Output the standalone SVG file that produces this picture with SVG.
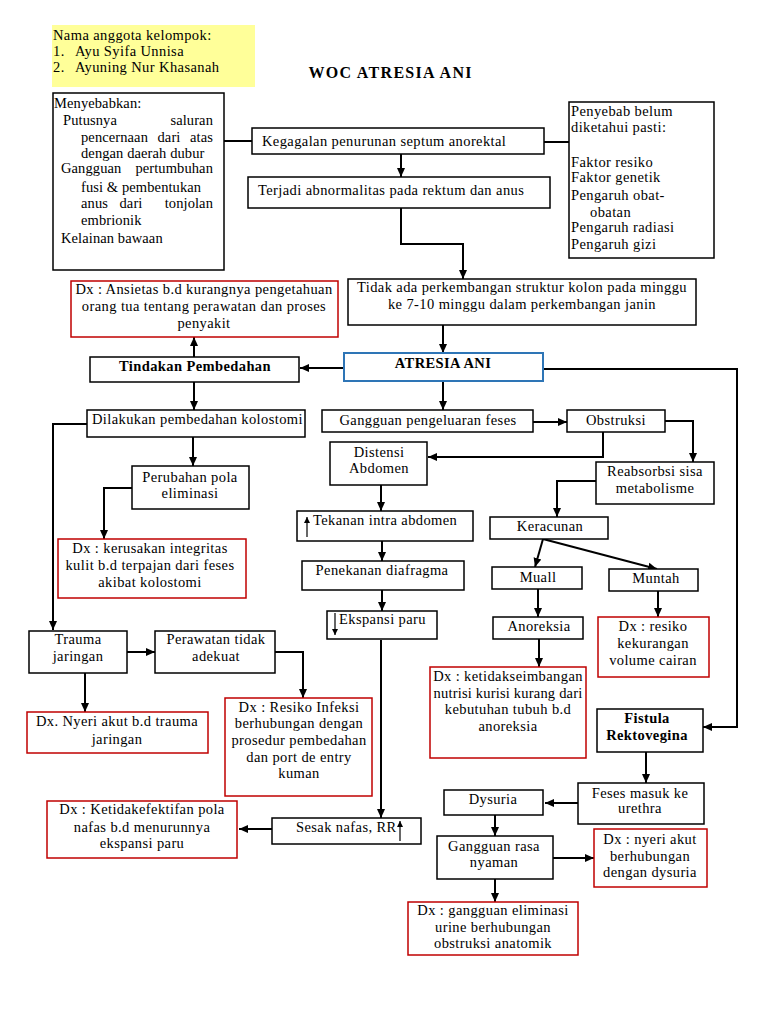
<svg xmlns="http://www.w3.org/2000/svg" width="768" height="1024" viewBox="0 0 768 1024">
<defs>
<marker id="ah" markerUnits="userSpaceOnUse" markerWidth="10" markerHeight="10" refX="9" refY="5" orient="auto">
<path d="M0,1 L9,5 L0,9 z" fill="#000"/>
</marker>
<marker id="sa" markerUnits="userSpaceOnUse" markerWidth="7" markerHeight="7" refX="6" refY="3.5" orient="auto">
<path d="M0,0.5 L6,3.5 L0,6.5 z" fill="#000"/>
</marker>
<style>
text{font-family:"Liberation Serif","Times New Roman",serif;font-size:14.5px;fill:#000;letter-spacing:0.4px}
.c{text-anchor:middle}
.e{text-anchor:end}
.b{font-weight:bold}
.j text{letter-spacing:0.1px}
.box{fill:#fff;stroke:#000;stroke-width:1.5}
.dx{fill:#fff;stroke:#c00000;stroke-width:1.5}
.blue{fill:#fff;stroke:#2e75b6;stroke-width:2}
.cn{fill:none;stroke:#000;stroke-width:2}
.sm{fill:none;stroke:#000;stroke-width:1.2}
</style>
</defs>
<rect width="768" height="1024" fill="#fff"/>

<g id="members">
<rect x="52" y="25" width="203" height="62" fill="#ffff99"/>
<text x="53" y="40">Nama anggota kelompok:</text>
<text x="53" y="56">1.</text><text x="75" y="56">Ayu Syifa Unnisa</text>
<text x="53" y="72">2.</text><text x="75" y="72">Ayuning Nur Khasanah</text>
</g>

<g id="title">
<text x="390" y="78" class="c b" style="font-size:16px;letter-spacing:0" textLength="163">WOC ATRESIA ANI</text>
</g>

<g id="connectors">
<line class="cn" x1="224" y1="141" x2="252" y2="141"/>
<line class="cn" x1="544" y1="142" x2="569" y2="142"/>
<line class="cn" x1="401" y1="154" x2="401" y2="177" marker-end="url(#ah)"/>
<polyline class="cn" points="401,208 401,244 463,244 463,279" marker-end="url(#ah)"/>
<line class="cn" x1="443" y1="325" x2="443" y2="353" marker-end="url(#ah)"/>
<line class="cn" x1="344" y1="368" x2="300" y2="368" marker-end="url(#ah)"/>
<line class="cn" x1="194" y1="357" x2="194" y2="337" marker-end="url(#ah)"/>
<polyline class="cn" points="543,369 737,369 737,727 703,727" marker-end="url(#ah)"/>
<line class="cn" x1="443" y1="381" x2="443" y2="410" marker-end="url(#ah)"/>
<line class="cn" x1="194" y1="382" x2="194" y2="410" marker-end="url(#ah)"/>
<polyline class="cn" points="87,424 53,424 53,630" marker-end="url(#ah)"/>
<line class="cn" x1="193" y1="437" x2="193" y2="466" marker-end="url(#ah)"/>
<polyline class="cn" points="132,488 104,488 104,539" marker-end="url(#ah)"/>
<line class="cn" x1="127" y1="652" x2="155" y2="652" marker-end="url(#ah)"/>
<polyline class="cn" points="275,652 303,652 303,698" marker-end="url(#ah)"/>
<line class="cn" x1="85" y1="673" x2="85" y2="712" marker-end="url(#ah)"/>
<line class="cn" x1="533" y1="422" x2="567" y2="422" marker-end="url(#ah)"/>
<polyline class="cn" points="665,421 693,421 693,462" marker-end="url(#ah)"/>
<polyline class="cn" points="603,432 603,457 428,457" marker-end="url(#ah)"/>
<line class="cn" x1="381" y1="485" x2="381" y2="511" marker-end="url(#ah)"/>
<line class="cn" x1="382" y1="541" x2="382" y2="561" marker-end="url(#ah)"/>
<line class="cn" x1="382" y1="590" x2="382" y2="611" marker-end="url(#ah)"/>
<line class="cn" x1="381" y1="640" x2="381" y2="818" marker-end="url(#ah)"/>
<line class="cn" x1="272" y1="829" x2="239" y2="829" marker-end="url(#ah)"/>
<polyline class="cn" points="596,481 557,481 557,517" marker-end="url(#ah)"/>
<line class="cn" x1="543" y1="539" x2="535" y2="567" marker-end="url(#ah)"/>
<line class="cn" x1="543" y1="539" x2="657" y2="569" marker-end="url(#ah)"/>
<line class="cn" x1="538" y1="589" x2="538" y2="617" marker-end="url(#ah)"/>
<line class="cn" x1="658" y1="591" x2="658" y2="617" marker-end="url(#ah)"/>
<line class="cn" x1="539" y1="639" x2="539" y2="667" marker-end="url(#ah)"/>
<line class="cn" x1="646" y1="752" x2="646" y2="783" marker-end="url(#ah)"/>
<line class="cn" x1="578" y1="803" x2="545" y2="803" marker-end="url(#ah)"/>
<line class="cn" x1="495" y1="815" x2="495" y2="836" marker-end="url(#ah)"/>
<line class="cn" x1="552" y1="858" x2="594" y2="858" marker-end="url(#ah)"/>
<line class="cn" x1="495" y1="879" x2="495" y2="902" marker-end="url(#ah)"/>
</g>

<g id="menyebabkan" class="j">
<rect class="box" x="53" y="93" width="171" height="177"/>
<text x="54" y="108">Menyebabkan:</text>
<text x="63" y="125">Putusnya</text><text x="213" y="125" class="e">saluran</text>
<text x="81" y="142">pencernaan</text><text x="169" y="142" class="c">dari</text><text x="213" y="142" class="e">atas</text>
<text x="81" y="158">dengan daerah dubur</text>
<text x="61" y="173">Gangguan</text><text x="213" y="173" class="e">pertumbuhan</text>
<text x="81" y="192">fusi &amp; pembentukan</text>
<text x="81" y="208">anus</text><text x="131" y="208" class="c">dari</text><text x="213" y="208" class="e">tonjolan</text>
<text x="81" y="225">embrionik</text>
<text x="61" y="243">Kelainan bawaan</text>
</g>

<g id="kegagalan">
<rect class="box" x="252" y="128" width="292" height="26"/>
<text x="262" y="146">Kegagalan penurunan septum anorektal</text>
</g>

<g id="penyebab">
<rect class="box" x="569" y="102" width="145" height="156"/>
<text x="571" y="116">Penyebab belum</text>
<text x="571" y="132">diketahui pasti:</text>
<text x="571" y="167">Faktor resiko</text>
<text x="571" y="182">Faktor genetik</text>
<text x="571" y="200">Pengaruh  obat-</text>
<text x="590" y="217">obatan</text>
<text x="571" y="232">Pengaruh radiasi</text>
<text x="571" y="249">Pengaruh gizi</text>
</g>

<g id="terjadi">
<rect class="box" x="248" y="177" width="302" height="31"/>
<text x="258" y="195">Terjadi  abnormalitas pada rektum dan anus</text>
</g>

<g id="tidak-ada">
<rect class="box" x="348" y="279" width="348" height="46"/>
<text x="522" y="292" class="c">Tidak ada perkembangan struktur kolon pada minggu</text>
<text x="522" y="309" class="c">ke 7-10 minggu dalam perkembangan janin</text>
</g>

<g id="dx-ansietas">
<rect class="dx" x="71" y="281" width="267" height="56"/>
<text x="204" y="294" class="c">Dx : Ansietas b.d kurangnya pengetahuan</text>
<text x="204" y="311" class="c">orang tua tentang perawatan dan proses</text>
<text x="204" y="328" class="c">penyakit</text>
</g>

<g id="atresia-ani">
<rect class="blue" x="344" y="353" width="199" height="28"/>
<text x="443" y="368" class="c b">ATRESIA ANI</text>
</g>

<g id="tindakan">
<rect class="box" x="90" y="357" width="209" height="25"/>
<text x="195" y="371" class="c b">Tindakan Pembedahan</text>
</g>

<g id="dilakukan">
<rect class="box" x="87" y="410" width="218" height="27"/>
<text x="92" y="424">Dilakukan pembedahan kolostomi</text>
</g>

<g id="perubahan">
<rect class="box" x="132" y="466" width="117" height="43"/>
<text x="190" y="482" class="c">Perubahan pola</text>
<text x="190" y="498" class="c">eliminasi</text>
</g>

<g id="dx-kerusakan">
<rect class="dx" x="58" y="539" width="188" height="59"/>
<text x="150" y="553" class="c">Dx : kerusakan integritas</text>
<text x="150" y="570" class="c">kulit b.d terpajan dari feses</text>
<text x="150" y="587" class="c">akibat kolostomi</text>
</g>

<g id="trauma">
<rect class="box" x="29" y="631" width="98" height="42"/>
<text x="78" y="644" class="c">Trauma</text>
<text x="78" y="661" class="c">jaringan</text>
</g>

<g id="perawatan">
<rect class="box" x="155" y="631" width="120" height="42"/>
<text x="216" y="644" class="c">Perawatan tidak</text>
<text x="216" y="661" class="c">adekuat</text>
</g>

<g id="dx-nyeri-trauma">
<rect class="dx" x="27" y="712" width="181" height="41"/>
<text x="117" y="726" class="c">Dx. Nyeri akut b.d trauma</text>
<text x="117" y="744" class="c">jaringan</text>
</g>

<g id="dx-resiko-infeksi">
<rect class="dx" x="225" y="698" width="147" height="98"/>
<text x="299" y="712" class="c">Dx : Resiko Infeksi</text>
<text x="299" y="728" class="c">berhubungan dengan</text>
<text x="299" y="745" class="c">prosedur pembedahan</text>
<text x="299" y="762" class="c">dan port de entry</text>
<text x="299" y="778" class="c">kuman</text>
</g>

<g id="gangguan-feses">
<rect class="box" x="322" y="410" width="211" height="22"/>
<text x="428" y="425" class="c">Gangguan pengeluaran feses</text>
</g>

<g id="obstruksi">
<rect class="box" x="567" y="410" width="98" height="22"/>
<text x="616" y="425" class="c">Obstruksi</text>
</g>

<g id="distensi">
<rect class="box" x="330" y="442" width="97" height="43"/>
<text x="379" y="457" class="c">Distensi</text>
<text x="379" y="473" class="c">Abdomen</text>
</g>

<g id="reabsorbsi">
<rect class="box" x="596" y="462" width="118" height="42"/>
<text x="655" y="476" class="c">Reabsorbsi sisa</text>
<text x="655" y="493" class="c">metabolisme</text>
</g>

<g id="tekanan">
<rect class="box" x="297" y="511" width="176" height="30"/>
<line class="sm" x1="307" y1="537" x2="307" y2="517" marker-end="url(#sa)"/>
<text x="313" y="525">Tekanan intra abdomen</text>
</g>

<g id="keracunan">
<rect class="box" x="490" y="517" width="118" height="22"/>
<text x="550" y="531" class="c">Keracunan</text>
</g>

<g id="penekanan">
<rect class="box" x="302" y="561" width="162" height="29"/>
<text x="382" y="575" class="c">Penekanan diafragma</text>
</g>

<g id="muall">
<rect class="box" x="492" y="567" width="90" height="22"/>
<text x="538" y="582" class="c">Muall</text>
</g>

<g id="muntah">
<rect class="box" x="609" y="569" width="89" height="22"/>
<text x="656" y="583" class="c">Muntah</text>
</g>

<g id="ekspansi">
<rect class="box" x="327" y="611" width="110" height="28"/>
<line class="sm" x1="335" y1="613" x2="335" y2="635" marker-end="url(#sa)"/>
<text x="339" y="624">Ekspansi paru</text>
</g>

<g id="anoreksia">
<rect class="box" x="493" y="617" width="90" height="22"/>
<text x="539" y="631" class="c">Anoreksia</text>
</g>

<g id="dx-resiko-cairan">
<rect class="dx" x="598" y="617" width="111" height="60"/>
<text x="653" y="631" class="c">Dx : resiko</text>
<text x="653" y="648" class="c">kekurangan</text>
<text x="653" y="665" class="c">volume cairan</text>
</g>

<g id="dx-nutrisi">
<rect class="dx" x="430" y="667" width="156" height="91"/>
<text x="508" y="681" class="c">Dx : ketidakseimbangan</text>
<text x="508" y="698" class="c" style="letter-spacing:0.2px">nutrisi kurisi kurang dari</text>
<text x="508" y="714" class="c">kebutuhan tubuh b.d</text>
<text x="508" y="731" class="c">anoreksia</text>
</g>

<g id="fistula">
<rect class="box" x="597" y="709" width="106" height="43"/>
<text x="647" y="723" class="c b">Fistula</text>
<text x="647" y="740" class="c b">Rektovegina</text>
</g>

<g id="feses-urethra">
<rect class="box" x="578" y="783" width="126" height="41"/>
<text x="640" y="798" class="c">Feses masuk ke</text>
<text x="640" y="813" class="c">urethra</text>
</g>

<g id="dysuria">
<rect class="box" x="444" y="790" width="99" height="25"/>
<text x="493" y="804" class="c">Dysuria</text>
</g>

<g id="sesak">
<rect class="box" x="272" y="818" width="149" height="26"/>
<text x="296" y="832">Sesak nafas, RR</text>
<line class="sm" x1="400" y1="841" x2="400" y2="821" marker-end="url(#sa)"/>
</g>

<g id="dx-pola-nafas">
<rect class="dx" x="47" y="801" width="190" height="57"/>
<text x="142" y="814" class="c">Dx : Ketidakefektifan pola</text>
<text x="142" y="832" class="c">nafas b.d menurunnya</text>
<text x="142" y="848" class="c">ekspansi paru</text>
</g>

<g id="gangguan-rasa">
<rect class="box" x="437" y="836" width="116" height="43"/>
<text x="494" y="851" class="c">Gangguan rasa</text>
<text x="494" y="867" class="c">nyaman</text>
</g>

<g id="dx-nyeri-dysuria">
<rect class="dx" x="594" y="829" width="113" height="58"/>
<text x="650" y="844" class="c">Dx : nyeri akut</text>
<text x="650" y="861" class="c">berhubungan</text>
<text x="650" y="877" class="c">dengan dysuria</text>
</g>

<g id="dx-eliminasi-urine">
<rect class="dx" x="408" y="902" width="170" height="53"/>
<text x="493" y="915" class="c">Dx : gangguan eliminasi</text>
<text x="493" y="932" class="c">urine berhubungan</text>
<text x="493" y="948" class="c">obstruksi anatomik</text>
</g>
</svg>
